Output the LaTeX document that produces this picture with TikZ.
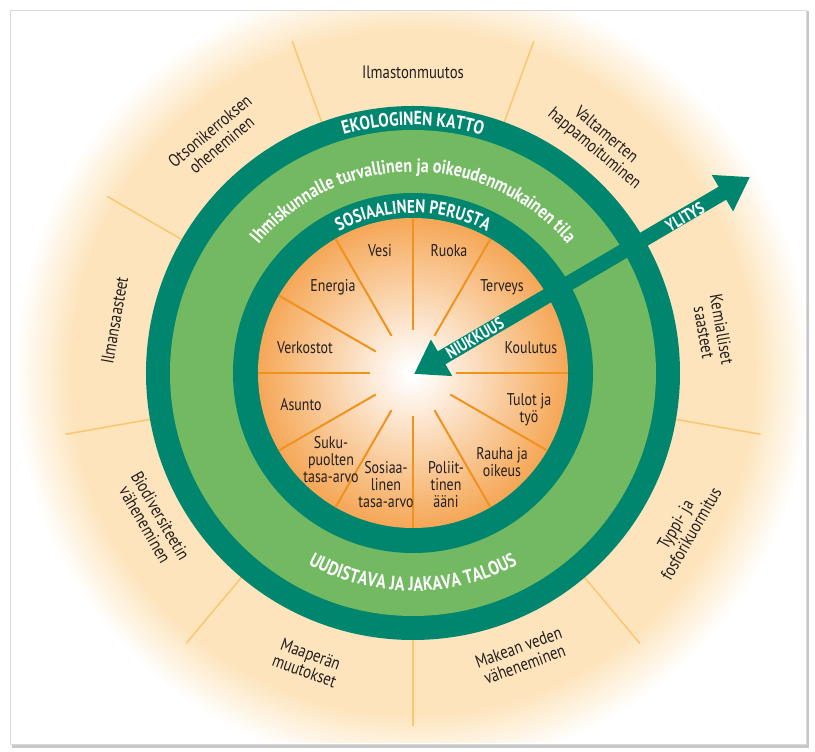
\documentclass[tikz,border=0pt]{standalone}
\usepackage{fontspec}
\setmainfont{PT Sans}[FakeStretch=0.82]
\usetikzlibrary{decorations.text,arrows.meta}
\definecolor{teal}{RGB}{0,134,110}
\definecolor{grn}{RGB}{114,185,98}
\definecolor{peach}{RGB}{253,228,188}
\definecolor{orng}{RGB}{245,168,88}
\definecolor{spk}{RGB}{240,146,30}
\definecolor{ospk}{RGB}{249,200,110}
\definecolor{ink}{RGB}{35,31,32}
\tikzset{
  inl/.style={text=ink,font=\fontsize{17}{17}\selectfont,align=center,inner sep=0pt},
  outl/.style={text=ink,font=\fontsize{18}{18}\selectfont,align=center,inner sep=0pt},
  arl/.style={text=white,font=\bfseries\fontsize{17}{17}\selectfont,inner sep=0pt,rotate=30.4},
}
\begin{document}
\begin{tikzpicture}[x=1pt,y=1pt]
\useasboundingbox (-413,-379) rectangle (402,373);
\fill[white] (-413,-379) rectangle (402,373);
\fill[black!22] (-401,-375) rectangle (396,362);
\node[draw=black!15,fill=white,minimum width=796pt,minimum height=734pt,inner sep=0pt] (frame) at (-5,-4) {};
\begin{scope}
\clip (-402,-370) rectangle (392,361);
\foreach \r in {400,396,...,344}{
  \pgfmathsetmacro{\p}{max(0,min(100,(400-\r)*100/56))}
  \fill[peach!\p!white] (0,0) circle[radius=\r];
}
\end{scope}
% outer spokes
\foreach \a in {270,310,350,30,70,110,150,190,230}
  \draw[ospk,line width=1.5pt] (\a:267) -- (\a:353);
\fill[teal] (0,0) circle[radius=267];
\fill[grn] (0,0) circle[radius=243];
\fill[teal] (0,0) circle[radius=180];
\foreach \r in {155,151,...,3}{
  \pgfmathsetmacro{\p}{max(0,min(100,(\r-8)*100/147))}
  \fill[orng!\p!white] (0,0) circle[radius=\r];
}
\foreach \a in {0,30,...,330}
  \draw[spk,line width=2pt] (\a:43) -- (\a:155);
% ring texts
\path[decorate,decoration={text along path,text align=center,
  text={|\bfseries\color{white}\fontsize{19}{19}\selectfont|EKOLOGINEN KATTO}}]
  (140:248) arc[start angle=140,end angle=40,radius=248];
\path[decorate,decoration={text along path,text align=center,
  text={|\bfseries\color{white}\fontsize{19.5}{19.5}\selectfont|Ihmiskunnalle turvallinen ja oikeudenmukainen tila}}]
  (175:201) arc[start angle=175,end angle=5,radius=201];
\path[decorate,decoration={text along path,text align=center,
  text={|\bfseries\color{white}\fontsize{18.5}{18.5}\selectfont|SOSIAALINEN PERUSTA}}]
  (150:160) arc[start angle=150,end angle=30,radius=160];
\path[decorate,decoration={text along path,text align=center,
  text={|\bfseries\color{white}\fontsize{19.5}{19.5}\selectfont|UUDISTAVA JA JAKAVA TALOUS}}]
  (215:218) arc[start angle=215,end angle=325,radius=218];
% inner labels
\node[inl] (vesi) at (-33,122) {Vesi};
\node[inl] (ruoka) at (36,122) {Ruoka};
\node[inl] (energia) at (-80,86) {Energia};
\node[inl] (terveys) at (89,86) {Terveys};
\node[inl] (verk) at (-108,25) {Verkostot};
\node[inl] (koul) at (118,25) {Koulutus};
\node[inl] (asunto) at (-112,-32) {Asunto};
\node[inl] (tulot) at (116,-37) {Tulot ja\\työ};
\node[inl] (suku) at (-82,-87) {Suku-\\puolten\\tasa-arvo};
\node[inl] (rauha) at (89,-89) {Rauha ja\\oikeus};
\node[inl] (sos) at (-27,-112) {Sosiaa-\\linen\\tasa-arvo};
\node[inl] (pol) at (33,-112) {Poliit-\\tinen\\ääni};
% outer labels
\node[outl,rotate=0] (ilm) at (90:301) {Ilmastonmuutos};
\node[outl,rotate=-40] (valt) at (51:297) {Valtamerten\\happamoituminen};
\node[outl,rotate=-80] (kem) at (8:303) {Kemialliset\\saasteet};
\node[outl,rotate=60] (typ) at (-30:312) {Typpi- ja\\fosforikuormitus};
\node[outl,rotate=20] (mak) at (-69:303) {Makean veden\\väheneminen};
\node[outl,rotate=-20] (maa) at (250:308) {Maaperän\\muutokset};
\node[outl,rotate=-60] (bio) at (209.5:299) {Biodiversiteetin\\väheneminen};
\node[outl,rotate=80] (ilms) at (170:303) {Ilmansaasteet};
\node[outl,rotate=40] (ots) at (130:307) {Otsonikerroksen\\oheneminen};
% arrow
\coordinate (lo) at (1,-1);
\coordinate (hi) at (337,196);
\draw[teal,line width=15pt,{Triangle[length=32pt,width=40pt]}-{Triangle[length=32pt,width=40pt]}] (lo) -- (hi);
\node[arl] (niuk) at (62,35) {NIUKKUUS};
\node[arl] (ylit) at (272,156) {YLITYS};
\end{tikzpicture}
\end{document}
